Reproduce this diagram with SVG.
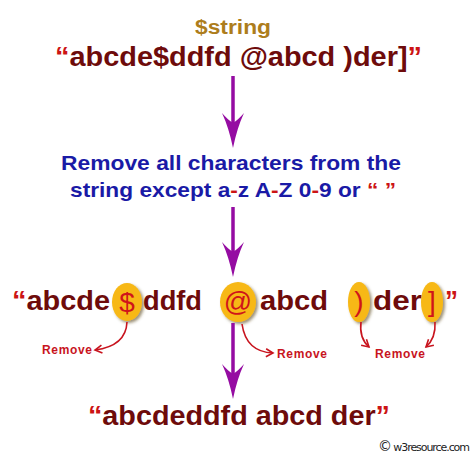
<svg xmlns="http://www.w3.org/2000/svg" width="474" height="455" viewBox="0 0 474 455">
<style>
.big{font-family:"Liberation Sans",Arial,sans-serif;font-weight:bold;font-size:27px;fill:#6e0b0b}
.q{fill:#cc1414}
.blue{font-family:"Liberation Sans",Arial,sans-serif;font-weight:bold;font-size:21px;fill:#1a1aa6}
.rm{font-family:"Liberation Sans",Arial,sans-serif;font-weight:bold;font-size:12px;fill:#c8141e}
.sym{font-family:"Liberation Sans",Arial,sans-serif;font-size:28px;fill:#d0141a;text-anchor:middle}
.bub{fill:#f7b816;filter:url(#sh)}
.shaft{stroke:#950ca2;stroke-width:3.5;fill:none}
.head{fill:#950ca2}
.rc{stroke:#c8141e;stroke-width:1.6;fill:none}
</style>
<defs>
<filter id="sh" x="-30%" y="-30%" width="170%" height="170%">
<feDropShadow dx="2" dy="2" stdDeviation="1.5" flood-color="#5a4a20" flood-opacity="0.6"/>
</filter>
<marker id="ra" markerWidth="10" markerHeight="10" refX="8" refY="5" orient="auto" markerUnits="userSpaceOnUse">
<path d="M1,1 L8,5 L1,9" fill="none" stroke="#c8141e" stroke-width="1.6"/>
</marker>
</defs>

<g id="title">
<text x="233" y="34" text-anchor="middle" style="font-family:'Liberation Sans',Arial,sans-serif;font-weight:bold;font-size:20px;fill:#ad7d1c" textLength="76" lengthAdjust="spacingAndGlyphs">$string</text>
</g>
<g id="input">
<text x="55" y="66" class="big" textLength="367" lengthAdjust="spacingAndGlyphs"><tspan class="q">“</tspan>abcde$ddfd @abcd )der]<tspan class="q">”</tspan></text>
</g>
<g id="rule">
<text x="61" y="170" class="blue" textLength="340" lengthAdjust="spacingAndGlyphs">Remove all characters from the</text>
<text x="70" y="197" class="blue" textLength="326" lengthAdjust="spacingAndGlyphs">string except a<tspan class="q">-</tspan>z A<tspan class="q">-</tspan>Z 0<tspan class="q">-</tspan>9 or <tspan class="q">“ ”</tspan></text>
</g>
<g id="breakdown">
<text x="12" y="310" class="big" textLength="98" lengthAdjust="spacingAndGlyphs"><tspan class="q">“</tspan>abcde</text>
<ellipse class="bub" cx="127" cy="302" rx="15" ry="19"/>
<text x="127" y="312" class="sym">$</text>
<text x="143" y="310" class="big" textLength="59" lengthAdjust="spacingAndGlyphs">ddfd</text>
<ellipse class="bub" cx="238" cy="302" rx="18" ry="20"/>
<text x="238" y="311" class="sym">@</text>
<text x="260" y="310" class="big" textLength="68" lengthAdjust="spacingAndGlyphs">abcd</text>
<ellipse class="bub" cx="359" cy="302" rx="11" ry="20"/>
<text x="359" y="311" class="sym">)</text>
<text x="373" y="310" class="big" textLength="49" lengthAdjust="spacingAndGlyphs">der</text>
<ellipse class="bub" cx="432" cy="302" rx="11" ry="20"/>
<text x="432" y="311" class="sym">]</text>
<text x="445" y="310" class="big q" textLength="13" lengthAdjust="spacingAndGlyphs">”</text>
</g>
<g id="remove1"><text x="42" y="354" class="rm" textLength="50">Remove</text></g>
<g id="remove2"><text x="277" y="358" class="rm" textLength="50">Remove</text></g>
<g id="remove3"><text x="375" y="358" class="rm" textLength="50">Remove</text></g>
<g id="output">
<text x="88" y="425" class="big" textLength="302" lengthAdjust="spacingAndGlyphs"><tspan class="q">“</tspan>abcdeddfd abcd der<tspan class="q">”</tspan></text>
</g>
<g id="copyright">
<text x="378" y="451" style="font-family:'DejaVu Sans',Verdana,sans-serif;font-size:11px;fill:#222" textLength="92"><tspan style="font-size:14px">©</tspan> w3resource.com</text>
</g>

<g id="connectors">
<line class="shaft" x1="233" y1="76" x2="233" y2="128"/>
<path class="head" d="M233,148 Q229,128 222,113 Q228,120 233,123 Q238,120 244,113 Q237,128 233,148 Z"/>
<line class="shaft" x1="233" y1="207" x2="233" y2="258"/>
<path class="head" d="M233,277 Q229,257 222,242 Q228,249 233,252 Q238,249 244,242 Q237,257 233,277 Z"/>
<line class="shaft" x1="233" y1="323" x2="233" y2="380"/>
<path class="head" d="M233,399 Q229,379 222,364 Q228,371 233,374 Q238,371 244,364 Q237,379 233,399 Z"/>
<path class="rc" d="M127,322 Q126,346 95,350" marker-end="url(#ra)"/>
<path class="rc" d="M242,324 Q246,352 273,353" marker-end="url(#ra)"/>
<path class="rc" d="M361,322 Q359,338 369,347" marker-end="url(#ra)"/>
<path class="rc" d="M435,322 Q436,338 426,347" marker-end="url(#ra)"/>
</g>
</svg>
